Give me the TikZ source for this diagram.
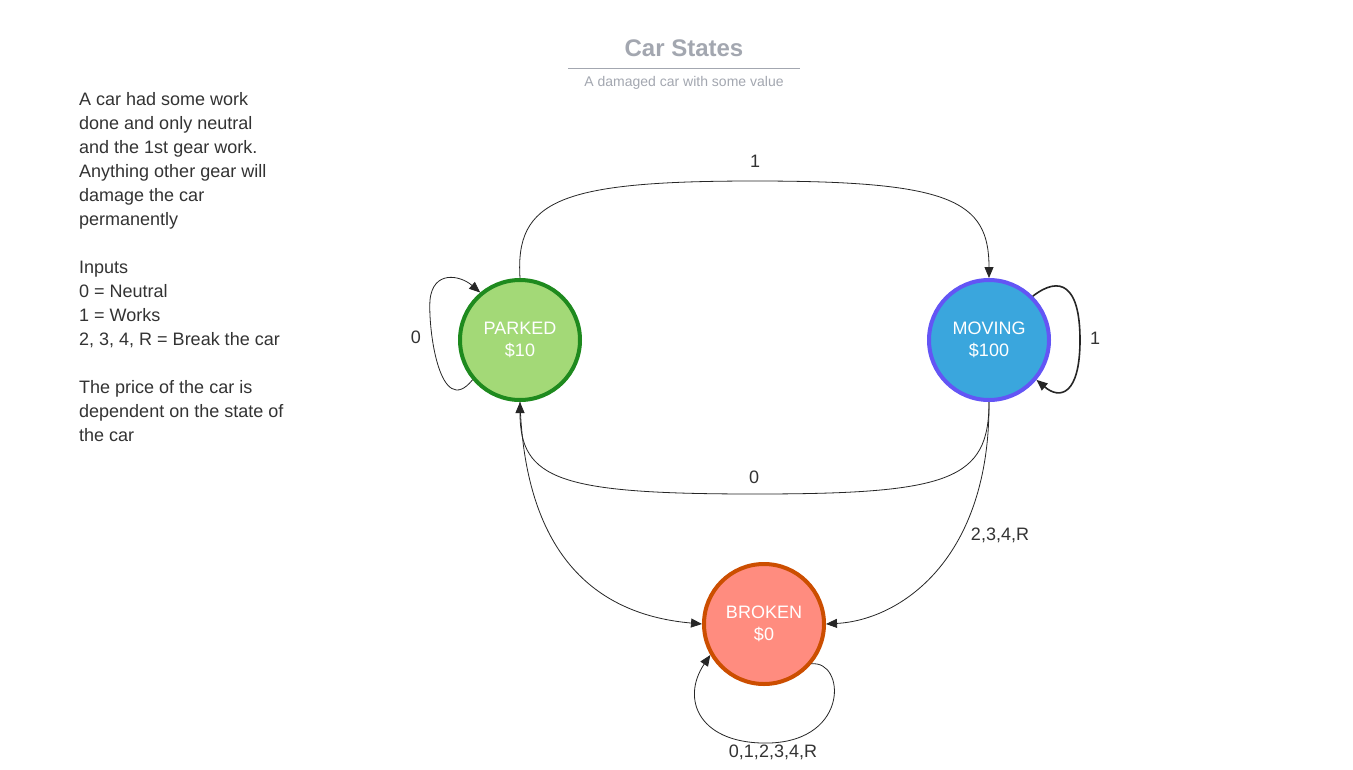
\documentclass[tikz,border=0pt]{standalone}
\usepackage{fontspec}
\setmainfont{Liberation Sans}
\usetikzlibrary{arrows.meta}
\definecolor{pkf}{HTML}{A3D977}\definecolor{pkb}{HTML}{1E8A1E}
\definecolor{mvf}{HTML}{3AA6DD}\definecolor{mvb}{HTML}{6355F5}
\definecolor{brf}{HTML}{FF8C7F}\definecolor{brb}{HTML}{CC4E00}
\definecolor{ttl}{HTML}{A3A7B0}\definecolor{txt}{HTML}{333333}
\begin{document}
\begin{tikzpicture}[x=1pt,y=-1pt,
  st/.style={circle,minimum size=120pt,line width=4pt,text=white,font=\fontsize{18}{22}\selectfont,align=center,inner sep=0pt},
  ed/.style={draw=black!85,line width=0.8pt,-{Triangle[length=11pt,width=9pt]}},
  lb/.style={font=\fontsize{18}{22}\selectfont,text=txt}]
\useasboundingbox[fill=white] (0,0) rectangle (1353,769);
\node[font=\bfseries\fontsize{24}{28}\selectfont,text=ttl] (title) at (684,48) {Car States};
\draw[ttl,line width=1pt] (568,68) -- (800,68);
\node[font=\fontsize{14}{17}\selectfont,text=ttl] (sub) at (684,83) {A damaged car with some value};
\node[lb,anchor=north west,align=left,inner sep=0pt,font=\fontsize{18}{24}\selectfont] (desc) at (79,92) {A car had some work\\done and only neutral\\and the 1st gear work.\\Anything other gear will\\damage the car\\permanently\\[24pt]Inputs\\0 = Neutral\\1 = Works\\2, 3, 4, R = Break the car\\[24pt]The price of the car is\\dependent on the state of\\the car};
\node[st,fill=pkf,draw=pkb] (p) at (520,340) {PARKED\\\$10};
\node[st,fill=mvf,draw=mvb] (m) at (989,340) {MOVING\\\$100};
\node[st,fill=brf,draw=brb] (b) at (764,624) {BROKEN\\\$0};
\draw[ed] (p.north) .. controls (515,200) and (560,181) .. (755,181) .. controls (950,181) and (989,200) .. (m.north);
\node[lb] (l1) at (755,161) {1};
\draw[ed] (m.south) .. controls (989,480) and (950,494) .. (755,494) .. controls (560,494) and (520,480) .. (p.south);
\node[lb] (l0) at (754,477) {0};
\draw[ed] (p.south) .. controls (525,560) and (600,615) .. (b.west);
\draw[ed] (m.south) .. controls (990,560) and (900,620) .. (b.east);
\node[lb] (l2) at (1000,535) {2,3,4,R};
\draw[ed] (p.220) .. controls (440,420) and (428,330) .. (430,300) .. controls (433,270) and (460,275) .. (p.130);
\node[lb] (lp) at (416,337) {0};
\draw[ed,line width=1.6pt] (m.45) .. controls (1060,275) and (1080,285) .. (1080,340) .. controls (1080,395) and (1060,400) .. (m.-40);
\node[lb] (lm) at (1095,338) {1};
\draw[ed] (b.-40) .. controls (845,660) and (850,740) .. (770,743) .. controls (700,745) and (680,700) .. (b.210);
\node[lb] (lb3) at (773,752) {0,1,2,3,4,R};
\end{tikzpicture}
\end{document}
